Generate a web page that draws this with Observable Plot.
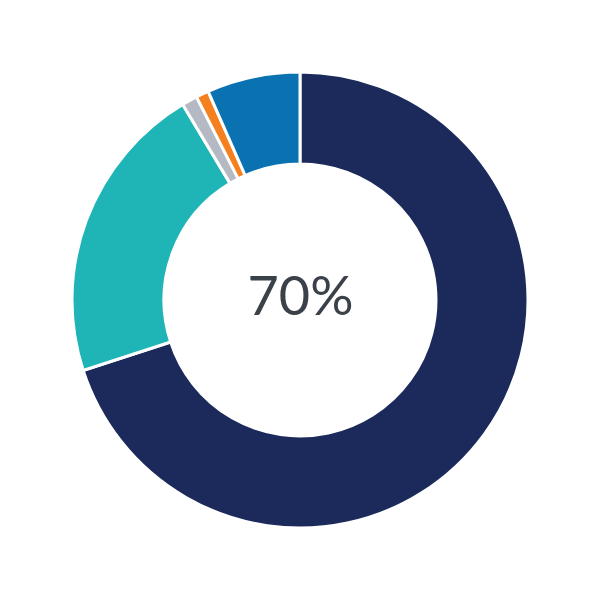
<!DOCTYPE html>
<html>
<head>
<meta charset="utf-8">
<script src="https://cdn.jsdelivr.net/npm/d3@7"></script>
<script src="https://cdn.jsdelivr.net/npm/@observablehq/plot@0.6"></script>
<style>
  html, body { margin: 0; padding: 0; background: #ffffff; }
  #chart { width: 600px; height: 600px; }
</style>
</head>
<body>
<div id="chart"></div>
<script>
// Data (clockwise from 12 o'clock)
const names = ["Segment 1", "Segment 2", "Segment 3", "Segment 4", "Segment 5"];
const values = [70, 21.4, 1.1, 0.9, 6.6];
const colors = ["#1b2a5a", "#1fb4b6", "#b4b9c3", "#f5801f", "#0b72b1"];
const centerLabel = "70%";

const data = names.map((name, i) => ({name, value: values[i]}));

const W = 600, H = 600;
const innerR = 136, outerR = 228;

const colorScale = Plot.scale({color: {type: "ordinal", domain: names, range: colors}});

function donutMark() {
  const pie = d3.pie().sort(null).value(d => d.value)(data);
  const arc = d3.arc().innerRadius(innerR).outerRadius(outerR);
  const g = d3.create("svg:g").attr("transform", `translate(${W / 2},${H / 2})`);
  pie.forEach(p => {
    g.append("path")
      .attr("d", arc(p))
      .attr("fill", colorScale.apply(p.data.name))
      .attr("stroke", "#ffffff")
      .attr("stroke-width", 3);
  });
  return g.node();
}

const chart = Plot.plot({
  width: W,
  height: H,
  margin: 0,
  x: {axis: null},
  y: {axis: null},
  marks: [
    donutMark,
    Plot.text([centerLabel], {
      text: d => d,
      frameAnchor: "middle",
      fontSize: 54,
      fontFamily: "Lato",
      fill: "#3b4148",
      dy: -3
    })
  ]
});
document.getElementById("chart").appendChild(chart);
</script>
</body>
</html>
